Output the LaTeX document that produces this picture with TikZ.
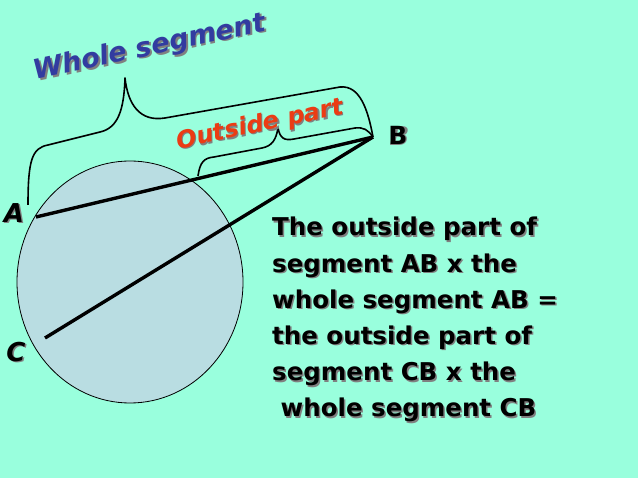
\documentclass[tikz,border=0pt]{standalone}
\usepackage{fontspec}
\usetikzlibrary{shapes.geometric}
\setmainfont{DejaVu Sans}
\begin{document}
\begin{tikzpicture}[x=1pt,y=-1pt,
  sh/.style={font=\bfseries\itshape\fontsize{26}{30}\selectfont},
  br/.style={line width=1.6pt,line join=round},
  seg/.style={line width=3.4pt}]
\fill[fill={rgb,255:red,153;green,255;blue,221}] (0,0) rectangle (638,478);
\useasboundingbox (0,0) rectangle (638,478);
\node[draw=black,line width=0.8pt,fill={rgb,255:red,185;green,221;blue,226},ellipse,minimum width=226pt,minimum height=242pt,inner sep=0pt] (circ) at (130,282) {};
\coordinate (B) at (373,137);
\coordinate (Ap) at (36,217);
\coordinate (Cp) at (45,338);
\draw[seg] (Ap) -- (B);
\draw[seg] (Cp) -- (B);
% whole brace
\draw[br] (28,205) .. controls (28,160) and (32,148) .. (48,145) -- (100,132) .. controls (118,128) and (124,110) .. (125,78)
  .. controls (128,105) and (140,122) .. (165,118) -- (340,87) .. controls (360,85) and (368,110) .. (B);
% outside brace
\draw[br] (198,176) .. controls (200,162) and (204,158) .. (214,157) -- (262,148) .. controls (272,146) and (276,140) .. (278,128)
  .. controls (280,138) and (284,141) .. (294,139) -- (355,128) .. controls (364,127) and (368,130) .. (B);
\foreach \c/\o in {gray/1.5, {rgb,255:red,50;green,60;blue,160}/0}{
  \node[sh,text=\c,rotate=12,font=\bfseries\itshape\fontsize{27}{30}\selectfont] at (150+\o,48+\o) {Whole segment};}
\node[sh,text=gray,rotate=12,font=\bfseries\itshape\fontsize{24}{28}\selectfont] at (261.5,126.5) {Outside part};
\node[sh,text={rgb,255:red,235;green,60;blue,20},rotate=12,font=\bfseries\itshape\fontsize{24}{28}\selectfont] (op) at (260,125) {Outside part};
\node[sh,text=gray] at (15.5,214.5) {A};
\node[sh] (A) at (14,213) {A};
\node[sh,text=gray] at (17.5,353.5) {C};
\node[sh] (C) at (16,352) {C};
\node[sh,text=gray] at (399.5,136.5) {B};
\node[sh,font=\bfseries\fontsize{25}{30}\selectfont] (Bl) at (398,135) {B};
\foreach \c/\o in {gray/1.5, black/0}{
\node[text=\c,anchor=north west,align=left,inner sep=0pt,font=\bfseries\fontsize{24.5}{36.2}\selectfont] at (272+\o,217+\o)
{The outside part of\\segment AB x the\\whole segment AB =\\the outside part of\\segment CB x the\\\ whole segment CB};}
\end{tikzpicture}
\end{document}
